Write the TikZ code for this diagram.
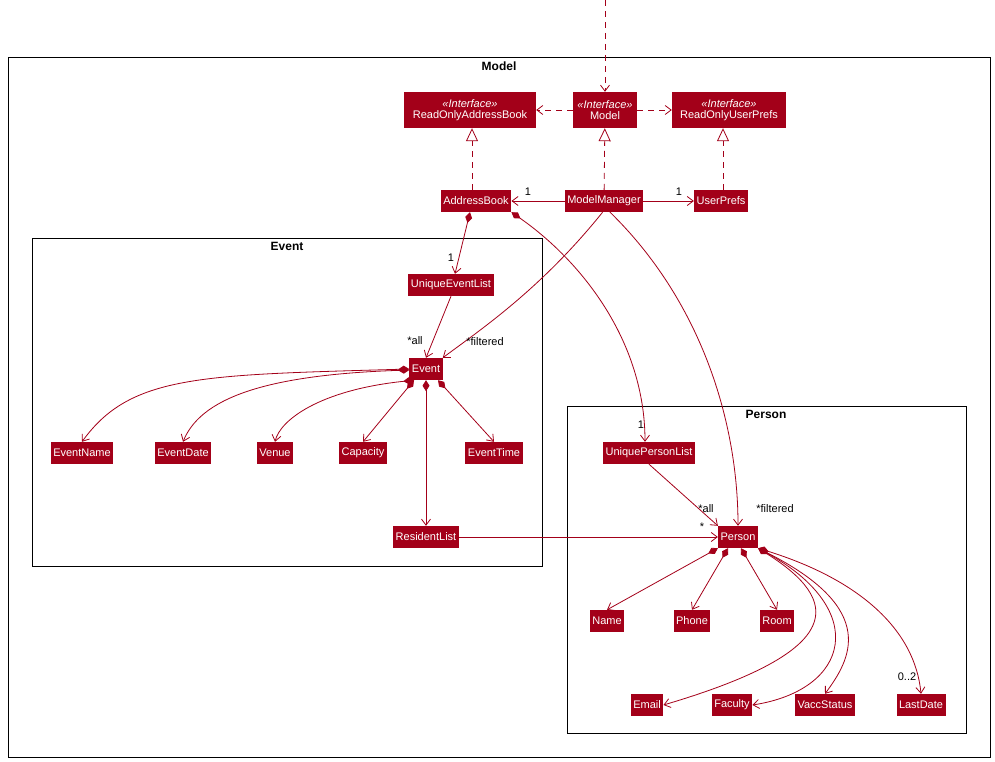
\documentclass[tikz,border=0pt]{standalone}
\usepackage{fontspec}
\setmainfont{Liberation Sans}
\usetikzlibrary{arrows.meta}
\definecolor{cls}{RGB}{163,0,25}
\begin{document}
\begin{tikzpicture}[x=1pt,y=-1pt,
 c/.style={fill=cls,text=white,font=\fontsize{11}{12}\selectfont,inner sep=2.5pt,minimum height=22pt},
 i/.style={c,align=center,font=\fontsize{11}{11.5}\selectfont,minimum height=36pt},
 fr/.style={draw=black,line width=0.9pt},
 ftitle/.style={font=\bfseries\fontsize{12}{12}\selectfont,anchor=north},
 lb/.style={font=\fontsize{11}{11}\selectfont},
 e/.style={draw=cls,line width=0.8pt},
 ar/.style={e,-{Straight Barb[length=6pt,width=9pt]}},
 comp/.style={e,{Diamond[length=11pt,width=7pt,fill=cls]}-{Straight Barb[length=6pt,width=9pt]}},
 dep/.style={ar,dash pattern=on 6pt off 5pt},
 real/.style={e,dash pattern=on 6pt off 5pt,-{Triangle[open,length=13pt,width=12pt,fill=white]}}]
\useasboundingbox (0,0) rectangle (995,762);
\draw[fr] (8,57) rectangle (990,757);
\node[ftitle] at (499,58) {Model};
\draw[fr] (32,238) rectangle (542,566);
\node[ftitle] at (287,239) {Event};
\draw[fr] (567,406) rectangle (966,733);
\node[ftitle] at (766,407) {Person};

\node[i,minimum width=132pt] (roab) at (470,110) {\textit{«Interface»}\\ReadOnlyAddressBook};
\node[i,minimum width=64pt] (model) at (605,110) {\textit{«Interface»}\\Model};
\node[i,minimum width=114pt] (roup) at (729,110) {\textit{«Interface»}\\ReadOnlyUserPrefs};
\node[c] (ab) at (476,201) {AddressBook};
\node[c] (mm) at (604,201) {ModelManager};
\node[c] (up) at (721,201) {UserPrefs};
\node[c] (uel) at (451,285) {UniqueEventList};
\node[c] (ev) at (426,369) {Event};
\node[c] (en) at (82,453) {EventName};
\node[c] (ed) at (183,453) {EventDate};
\node[c] (ve) at (275,453) {Venue};
\node[c] (ca) at (363,453) {Capacity};
\node[c] (et) at (494,453) {EventTime};
\node[c] (rl) at (426,537) {ResidentList};
\node[c] (upl) at (649,453) {UniquePersonList};
\node[c] (pe) at (738,537) {Person};
\node[c] (na) at (607,621) {Name};
\node[c] (ph) at (692,621) {Phone};
\node[c] (ro) at (777,621) {Room};
\node[c] (em) at (647,705) {Email};
\node[c] (fa) at (732,705) {Faculty};
\node[c] (va) at (825,705) {VaccStatus};
\node[c] (ld) at (921,705) {LastDate};
\coordinate (top) at (605,0);

\draw[dep] (top) -- (model);
\draw[dep] (model) -- (roab);
\draw[dep] (model) -- (roup);
\draw[real] (ab.north -| 472,0) -- (roab.south -| 472,0);
\draw[real] (mm) -- (model);
\draw[real] (up.north -| 723,0) -- (roup.south -| 723,0);
\draw[ar] (mm) -- (ab);
\draw[ar] (mm) -- (up);
\draw[comp] (ab.south -| 470,0) -- (uel.north -| 455,0);
\draw[ar] (uel.south) -- (ev.north);
\draw[ar] (mm.south west) ++(38,0) .. controls (540,290) and (480,330) .. (ev.north east);
\draw[ar] (mm.south) ++(6,0) .. controls (700,300) and (738,420) .. (pe.north);
\draw[comp] (ab.south east) .. controls (580,260) and (645,340) .. (upl.north -| 645,0);
\draw[ar] (upl.south) -- (pe.north west);
\draw[comp] (ev.west) .. controls (200,375) and (130,375) .. (en.north);
\draw[comp] (ev.west) ++(0,1) .. controls (260,375) and (200,400) .. (ed.north);
\draw[comp] (ev.south west) ++(5,0) .. controls (320,390) and (280,420) .. (ve.north);
\draw[comp] (ev.south) ++(-12,0) -- (ca.north);
\draw[comp] (ev.south) ++(12,0) -- (et.north);
\draw[comp] (ev.south) -- (rl.north);
\draw[ar] (rl.east) -- (pe.west);
\draw[comp] (pe.south west) -- (na.north);
\draw[comp] (pe.south) ++(-10,0) -- (ph.north);
\draw[comp] (pe.south) ++(3,0) -- (ro.north);
\draw[comp] (pe.south east) .. controls (840,600) and (850,650) .. (em.east);
\draw[comp] (pe.south east) .. controls (870,610) and (850,690) .. (fa.east);
\draw[comp] (pe.south east) .. controls (880,610) and (850,660) .. (va.north);
\draw[comp] (pe.south east) .. controls (860,580) and (915,630) .. (ld.north);

\node[lb] at (528,192) {1};
\node[lb] at (679,192) {1};
\node[lb] at (451,258) {1};
\node[lb] at (415,341) {*all};
\node[lb] at (485,342) {*filtered};
\node[lb] at (641,425) {1};
\node[lb] at (706,509) {*all};
\node[lb] at (775,509) {*filtered};
\node[lb] at (702,527) {*};
\node[lb] at (907,677) {0..2};
\end{tikzpicture}
\end{document}
